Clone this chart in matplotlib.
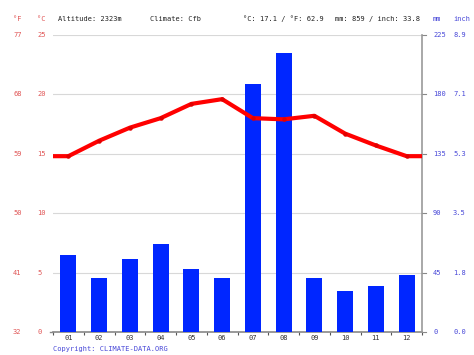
import matplotlib
matplotlib.use("Agg")
import matplotlib.pyplot as plt
from matplotlib.transforms import blended_transform_factory

months = ["01", "02", "03", "04", "05", "06", "07", "08", "09", "10", "11", "12"]
temp_c = [14.8, 16.1, 17.2, 18.0, 19.2, 19.6, 18.0, 17.9, 18.2, 16.7, 15.7, 14.8]
precip_mm = [58, 41, 55, 67, 48, 41, 188, 211, 41, 31, 35, 43]
c_ticks = [0, 5, 10, 15, 20, 25]
f_labels = ["32", "41", "50", "59", "68", "77"]
mm_ticks = [0, 45, 90, 135, 180, 225]
inch_labels = ["0.0", "1.8", "3.5", "5.3", "7.1", "8.9"]
header = [("°F", 13, "temp"), ("°C", 37, "temp"), ("Altitude: 2323m", 58, "k"),
          ("Climate: Cfb", 150, "k"), ("°C: 17.1 / °F: 62.9", 243, "k"),
          ("mm: 859 / inch: 33.8", 335, "k"), ("mm", 433, "prec"), ("inch", 453, "prec")]

W, H = 474, 355
fig = plt.figure(figsize=(W / 100, H / 100), dpi=100)
L, R, B, T = 53 / W, 422 / W, 1 - 332 / H, 1 - 35 / H
ax2 = fig.add_axes([L, B, R - L, T - B])
ax = ax2.twinx()
ax.set_zorder(ax2.get_zorder() + 1)
ax.patch.set_visible(False)

red_txt = "#e05555"
blue_txt = "#4848d8"
font = "DejaVu Sans Mono"
fs = 5.0

x = list(range(12))
ax2.bar(x, precip_mm, width=0.52, color="#0026ff", zorder=3)
ax2.set_ylim(0, 225)
ax2.set_xlim(-0.5, 11.5)
ax2.set_yticks(mm_ticks)
ax2.grid(axis="y", color="#d8d8d8", linewidth=0.8, zorder=0)
ax2.set_yticklabels([])
ax2.tick_params(axis="y", length=0)

ax.set_ylim(0, 25)
ax.set_xlim(-0.5, 11.5)
lx = [-0.5] + x + [11.5]
ly = [temp_c[0]] + temp_c + [temp_c[-1]]
ax.plot(lx, ly, color="#ff0000", linewidth=3.0, solid_capstyle="butt", zorder=5)
ax.plot(x, temp_c, "o", color="#e00000", markersize=2.2, zorder=6)
ax.set_yticks([])

for a in (ax, ax2):
    for s in ("top", "left"):
        a.spines[s].set_visible(False)
    a.spines["right"].set_visible(False)
    a.spines["bottom"].set_color("#888888")
    a.spines["bottom"].set_linewidth(1.2)
ax.spines["bottom"].set_visible(False)

ax2.set_xticks(x)
ax2.set_xticklabels(months, fontsize=fs, family=font, color="#333333")
ax2.set_xticks([i - 0.5 for i in range(13)], minor=True)
ax2.tick_params(axis="x", which="major", length=0, pad=2)
ax2.tick_params(axis="x", which="minor", length=2, color="#555555", width=0.8)

# right axis line
ax.spines["right"].set_visible(True)
ax.spines["right"].set_color("#999999")
ax.spines["right"].set_linewidth(1.2)

tr = blended_transform_factory(fig.transFigure, ax.transData)
tr2 = blended_transform_factory(fig.transFigure, ax2.transData)
for c, f in zip(c_ticks, f_labels):
    ax.text(37 / W, c, str(c), transform=tr, ha="left", va="center", fontsize=fs, family=font, color=red_txt)
    ax.text(13 / W, c, f, transform=tr, ha="left", va="center", fontsize=fs, family=font, color=red_txt)
for m, i in zip(mm_ticks, inch_labels):
    ax2.text(433 / W, m, str(m), transform=tr2, ha="left", va="center", fontsize=fs, family=font, color=blue_txt)
    ax2.text(453 / W, m, i, transform=tr2, ha="left", va="center", fontsize=fs, family=font, color=blue_txt)
    ax2.plot([1.0, 1.0 + 4 / (R - L) / W], [m, m], transform=blended_transform_factory(ax2.transAxes, ax2.transData),
             color="#888888", linewidth=0.8, clip_on=False)
ax2.plot([-3 / (R - L) / W, 0], [0, 0], transform=blended_transform_factory(ax2.transAxes, ax2.transData),
         color="#888888", linewidth=1.0, clip_on=False)

cols = {"temp": red_txt, "prec": blue_txt, "k": "#222222"}
for txt, px, c in header:
    fig.text(px / W, 1 - 19 / H, txt, ha="left", va="center", fontsize=fs, family=font, color=cols[c])

fig.text(53 / W, 1 - 349 / H, "Copyright: CLIMATE-DATA.ORG", ha="left", va="center",
         fontsize=fs, family=font, color=blue_txt)

fig.savefig("out.png", dpi=100)
